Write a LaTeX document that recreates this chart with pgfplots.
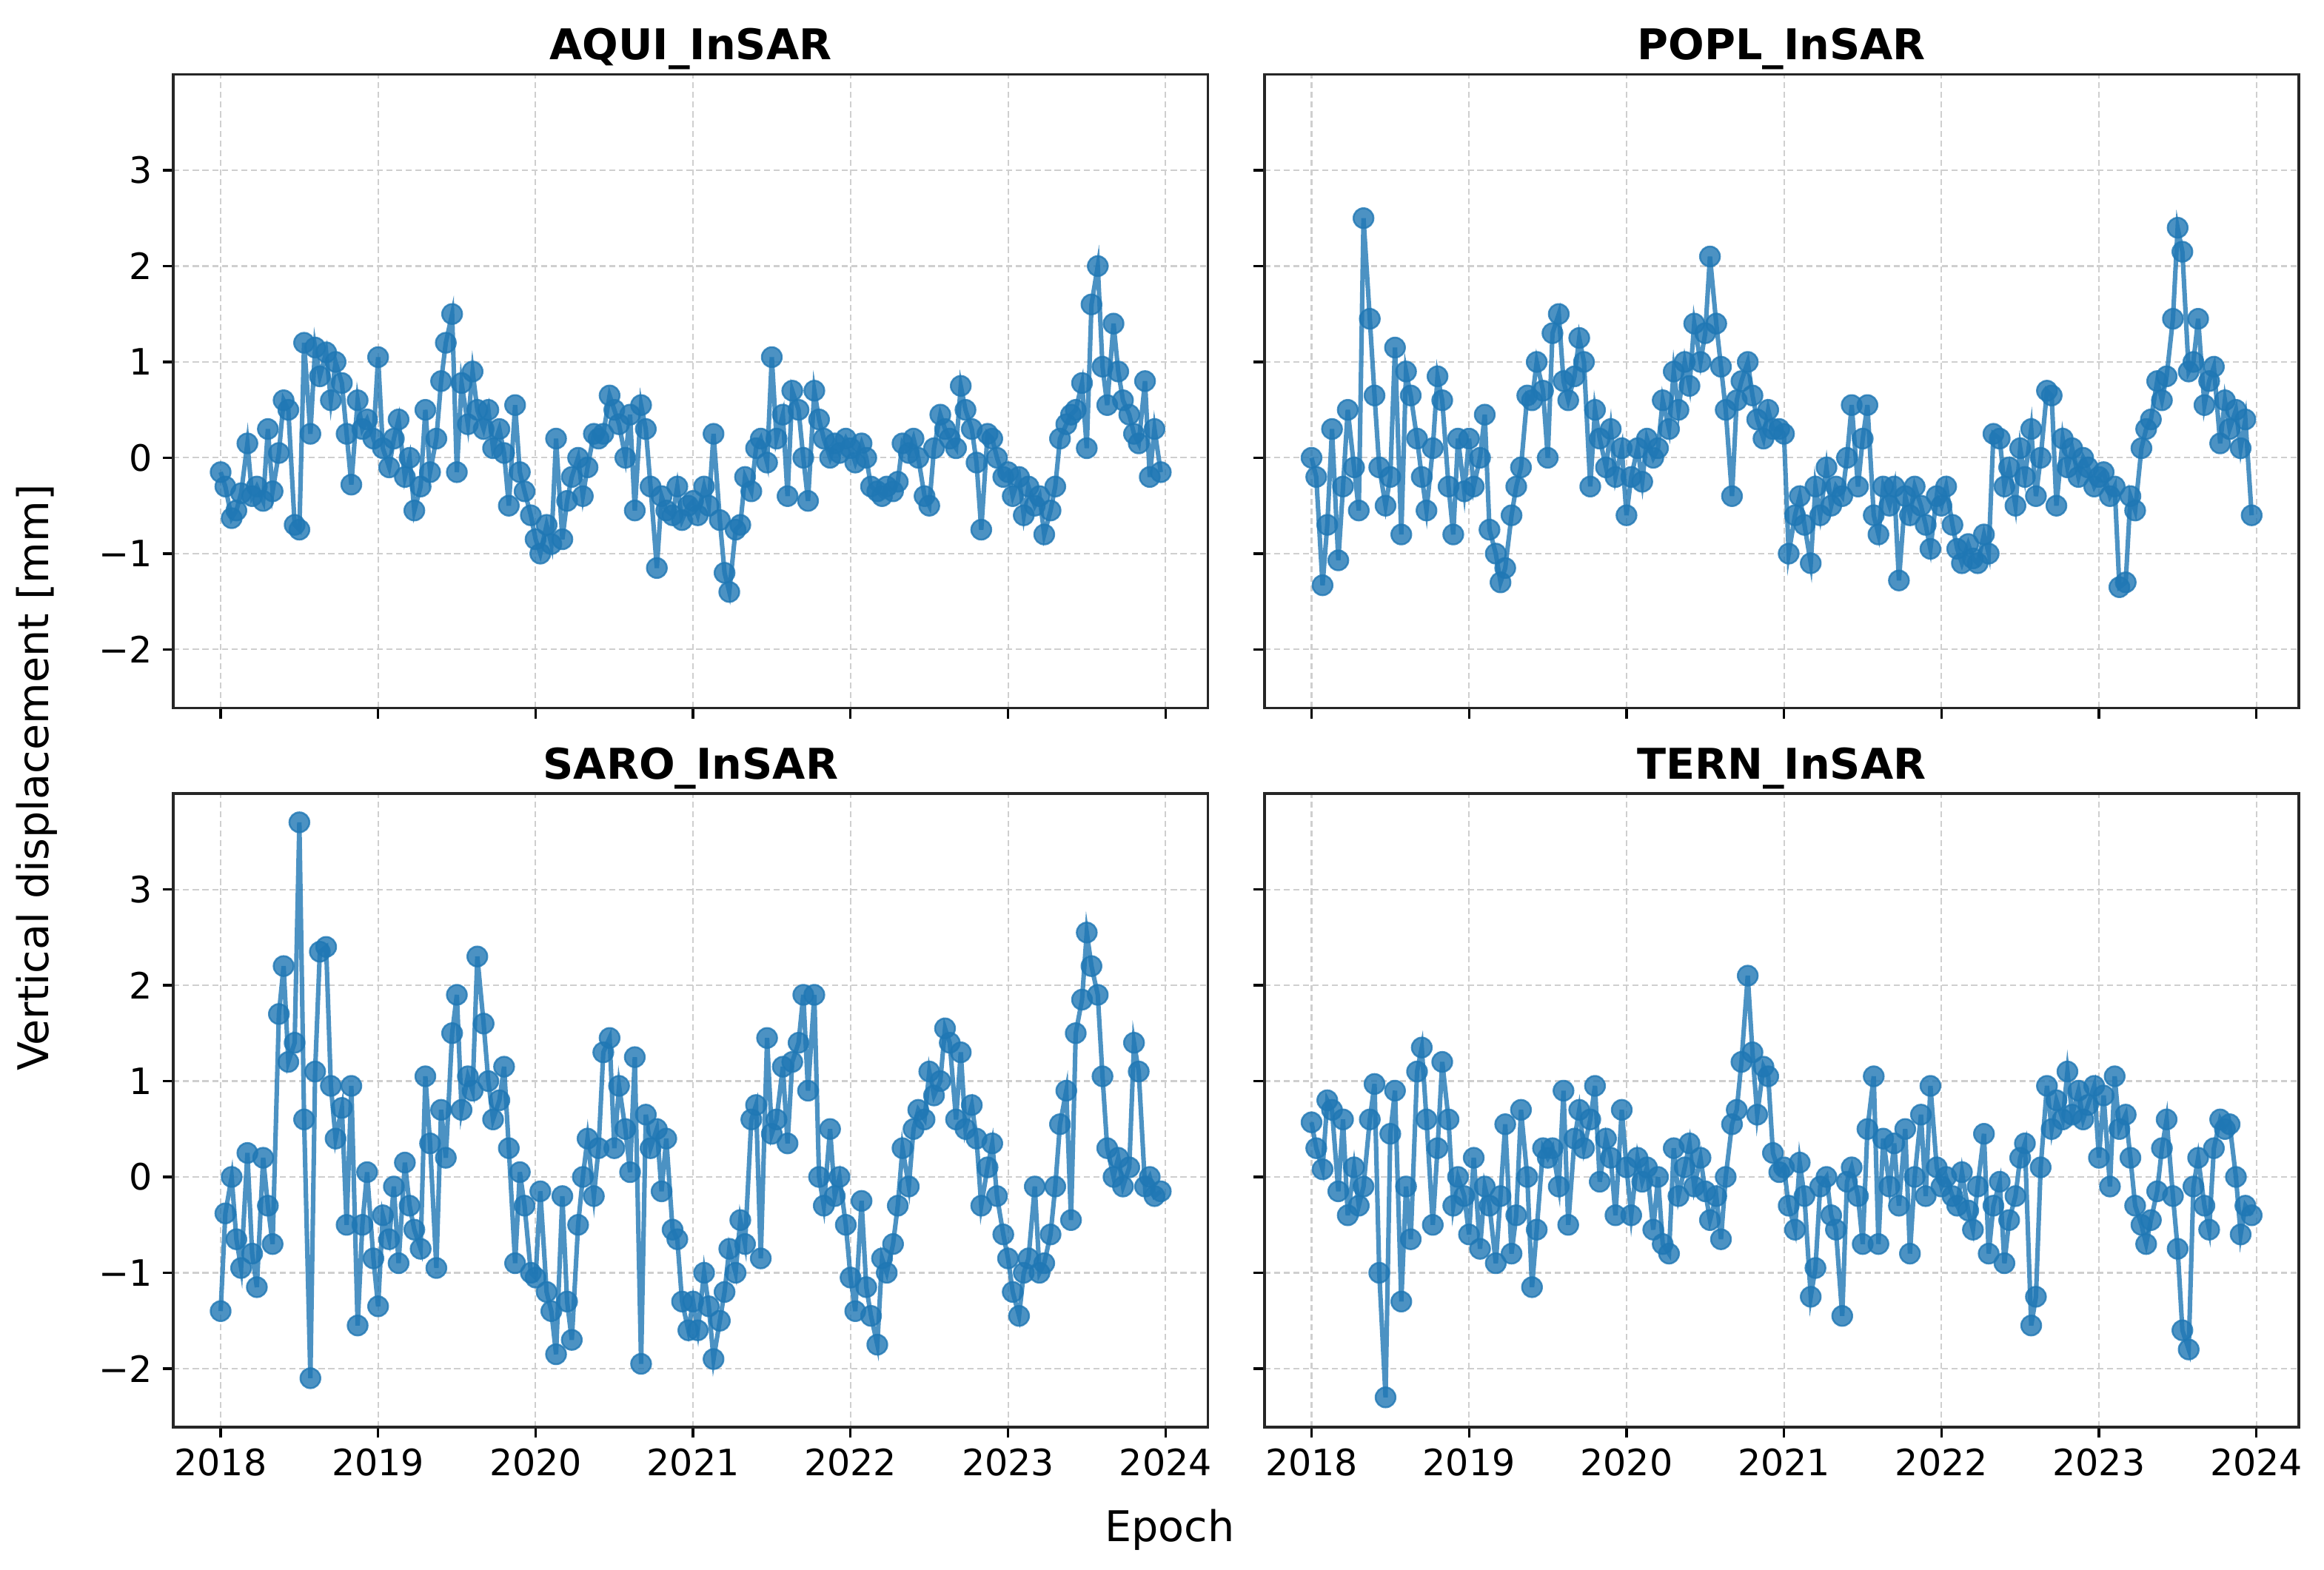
\documentclass[border=0pt]{standalone}
\usepackage{fontspec}
\setmainfont{DejaVu Sans}
\usepackage{pgfplots}
\pgfplotsset{compat=1.18}
\definecolor{tabblue}{RGB}{31,119,180}
\pgfplotsset{
  every axis title/.style={at={(0.5,1)}, anchor=base, yshift=4.9pt, font=\bfseries\fontsize{14}{16}\selectfont},
  panel/.style={
    scale only axis, width=341.9pt, height=209.4pt, anchor=south west,
    xmin=2017.70, xmax=2024.27, ymin=-2.61, ymax=4.0,
    xtick={2018,2019,2020,2021,2022,2023,2024},
    ytick={-2,-1,0,1,2,3},
    grid=major,
    major grid style={dash pattern=on 2pt off 1.2pt, gray!38, line width=0.5pt},
    tick align=outside, tick pos=left, major tick length=3.5pt,
    tick style={black, line width=0.8pt},
    axis line style={line width=0.9pt, black!85},
    tick label style={font=\fontsize{12}{14}\selectfont},
  },
  xlab/.style={xticklabels={2018,2019,2020,2021,2022,2023,2024}},
  noxlab/.style={xticklabels={}},
  ylab/.style={yticklabels={−2,−1,0,1,2,3}},
  noylab/.style={yticklabels={}},
  series/.style={color=tabblue, line width=1.5pt, opacity=0.8, mark=*, mark size=3.3pt,
    mark options={fill=tabblue, draw=tabblue, line width=0.6pt, opacity=0.8}},
}
\begin{document}
\begin{tikzpicture}
\path[use as bounding box] (0,0) rectangle (768pt,518.7pt);

% AQUI
\begin{axis}[panel, noxlab, ylab, at={(57.3pt,284.7pt)}, title={AQUI\_InSAR}]
\addplot[series] coordinates {
(2018.00,-0.15)(2018.03,-0.3)(2018.07,-0.63)(2018.10,-0.55)(2018.13,-0.37)(2018.17,0.15)(2018.20,-0.4)(2018.23,-0.3)(2018.27,-0.45)(2018.30,0.3)(2018.33,-0.35)(2018.37,0.05)(2018.40,0.6)(2018.43,0.5)(2018.47,-0.7)(2018.50,-0.75)(2018.53,1.2)(2018.57,0.25)(2018.60,1.15)(2018.63,0.85)(2018.67,1.1)(2018.70,0.6)(2018.73,1.0)(2018.77,0.78)(2018.80,0.25)(2018.83,-0.28)(2018.87,0.6)(2018.90,0.3)(2018.93,0.4)(2018.97,0.2)
(2019.00,1.05)(2019.03,0.1)(2019.07,-0.1)(2019.10,0.2)(2019.13,0.4)(2019.17,-0.2)(2019.20,0.0)(2019.23,-0.55)(2019.27,-0.3)(2019.30,0.5)(2019.33,-0.15)(2019.37,0.2)(2019.40,0.8)(2019.43,1.2)(2019.47,1.5)(2019.50,-0.15)(2019.53,0.78)(2019.57,0.35)(2019.60,0.9)(2019.63,0.5)(2019.67,0.3)(2019.70,0.5)(2019.73,0.1)(2019.77,0.3)(2019.80,0.05)(2019.83,-0.5)(2019.87,0.55)(2019.90,-0.15)(2019.93,-0.35)(2019.97,-0.6)
(2020.00,-0.85)(2020.03,-1.0)(2020.07,-0.7)(2020.10,-0.9)(2020.13,0.2)(2020.17,-0.85)(2020.20,-0.45)(2020.23,-0.2)(2020.27,0.0)(2020.30,-0.4)(2020.33,-0.1)(2020.37,0.25)(2020.40,0.2)(2020.43,0.25)(2020.47,0.65)(2020.50,0.5)(2020.53,0.35)(2020.57,0.0)(2020.60,0.45)(2020.63,-0.55)(2020.67,0.55)(2020.70,0.3)(2020.73,-0.3)(2020.77,-1.15)(2020.80,-0.4)(2020.83,-0.55)(2020.87,-0.6)(2020.90,-0.3)(2020.93,-0.65)(2020.97,-0.5)
(2021.00,-0.45)(2021.03,-0.6)(2021.07,-0.3)(2021.10,-0.5)(2021.13,0.25)(2021.17,-0.65)(2021.20,-1.2)(2021.23,-1.4)(2021.27,-0.75)(2021.30,-0.7)(2021.33,-0.2)(2021.37,-0.35)(2021.40,0.1)(2021.43,0.2)(2021.47,-0.05)(2021.50,1.05)(2021.53,0.2)(2021.57,0.45)(2021.60,-0.4)(2021.63,0.7)(2021.67,0.5)(2021.70,0.0)(2021.73,-0.45)(2021.77,0.7)(2021.80,0.4)(2021.83,0.2)(2021.87,0.0)(2021.90,0.15)(2021.93,0.05)(2021.97,0.2)
(2022.00,0.1)(2022.03,-0.05)(2022.07,0.15)(2022.10,0.0)(2022.13,-0.3)(2022.17,-0.35)(2022.20,-0.4)(2022.23,-0.3)(2022.27,-0.35)(2022.30,-0.25)(2022.33,0.15)(2022.37,0.05)(2022.40,0.2)(2022.43,0.0)(2022.47,-0.4)(2022.50,-0.5)(2022.53,0.1)(2022.57,0.45)(2022.60,0.3)(2022.63,0.2)(2022.67,0.1)(2022.70,0.75)(2022.73,0.5)(2022.77,0.3)(2022.80,-0.05)(2022.83,-0.75)(2022.87,0.25)(2022.90,0.2)(2022.93,0.0)(2022.97,-0.2)
(2023.00,-0.15)(2023.03,-0.4)(2023.07,-0.2)(2023.10,-0.6)(2023.13,-0.3)(2023.17,-0.5)(2023.20,-0.4)(2023.23,-0.8)(2023.27,-0.55)(2023.30,-0.3)(2023.33,0.2)(2023.37,0.35)(2023.40,0.45)(2023.43,0.5)(2023.47,0.78)(2023.50,0.1)(2023.53,1.6)(2023.57,2.0)(2023.60,0.95)(2023.63,0.55)(2023.67,1.4)(2023.70,0.9)(2023.73,0.6)(2023.77,0.45)(2023.80,0.25)(2023.83,0.15)(2023.87,0.8)(2023.90,-0.2)(2023.93,0.3)(2023.97,-0.15)
};
\end{axis}

% POPL
\begin{axis}[panel, noxlab, noylab, at={(417.8pt,284.7pt)}, title={POPL\_InSAR}]
\addplot[series] coordinates {
(2018.00,0.0)(2018.03,-0.2)(2018.07,-1.33)(2018.10,-0.7)(2018.13,0.3)(2018.17,-1.07)(2018.20,-0.3)(2018.23,0.5)(2018.27,-0.1)(2018.30,-0.55)(2018.33,2.5)(2018.37,1.45)(2018.40,0.65)(2018.43,-0.1)(2018.47,-0.5)(2018.50,-0.2)(2018.53,1.15)(2018.57,-0.8)(2018.60,0.9)(2018.63,0.65)(2018.67,0.2)(2018.70,-0.2)(2018.73,-0.55)(2018.77,0.1)(2018.80,0.85)(2018.83,0.6)(2018.87,-0.3)(2018.90,-0.8)(2018.93,0.2)(2018.97,-0.35)
(2019.00,0.2)(2019.03,-0.3)(2019.07,0.0)(2019.10,0.45)(2019.13,-0.75)(2019.17,-1.0)(2019.20,-1.3)(2019.23,-1.15)(2019.27,-0.6)(2019.30,-0.3)(2019.33,-0.1)(2019.37,0.65)(2019.40,0.6)(2019.43,1.0)(2019.47,0.7)(2019.50,0.0)(2019.53,1.3)(2019.57,1.5)(2019.60,0.8)(2019.63,0.6)(2019.67,0.85)(2019.70,1.25)(2019.73,1.0)(2019.77,-0.3)(2019.80,0.5)(2019.83,0.2)(2019.87,-0.1)(2019.90,0.3)(2019.93,-0.2)(2019.97,0.1)
(2020.00,-0.6)(2020.03,-0.2)(2020.07,0.1)(2020.10,-0.25)(2020.13,0.2)(2020.17,0.0)(2020.20,0.1)(2020.23,0.6)(2020.27,0.3)(2020.30,0.9)(2020.33,0.5)(2020.37,1.0)(2020.40,0.75)(2020.43,1.4)(2020.47,1.0)(2020.50,1.3)(2020.53,2.1)(2020.57,1.4)(2020.60,0.95)(2020.63,0.5)(2020.67,-0.4)(2020.70,0.6)(2020.73,0.8)(2020.77,1.0)(2020.80,0.65)(2020.83,0.4)(2020.87,0.2)(2020.90,0.5)(2020.93,0.3)(2020.97,0.3)
(2021.00,0.25)(2021.03,-1.0)(2021.07,-0.6)(2021.10,-0.4)(2021.13,-0.7)(2021.17,-1.1)(2021.20,-0.3)(2021.23,-0.6)(2021.27,-0.1)(2021.30,-0.5)(2021.33,-0.3)(2021.37,-0.4)(2021.40,0.0)(2021.43,0.55)(2021.47,-0.3)(2021.50,0.2)(2021.53,0.55)(2021.57,-0.6)(2021.60,-0.8)(2021.63,-0.3)(2021.67,-0.5)(2021.70,-0.3)(2021.73,-1.28)(2021.77,-0.4)(2021.80,-0.6)(2021.83,-0.3)(2021.87,-0.5)(2021.90,-0.7)(2021.93,-0.95)(2021.97,-0.4)
(2022.00,-0.5)(2022.03,-0.3)(2022.07,-0.7)(2022.10,-0.95)(2022.13,-1.1)(2022.17,-0.9)(2022.20,-1.05)(2022.23,-1.1)(2022.27,-0.8)(2022.30,-1.0)(2022.33,0.25)(2022.37,0.2)(2022.40,-0.3)(2022.43,-0.1)(2022.47,-0.5)(2022.50,0.1)(2022.53,-0.2)(2022.57,0.3)(2022.60,-0.4)(2022.63,0.0)(2022.67,0.7)(2022.70,0.65)(2022.73,-0.5)(2022.77,0.2)(2022.80,-0.1)(2022.83,0.1)(2022.87,-0.2)(2022.90,0.0)(2022.93,-0.1)(2022.97,-0.3)
(2023.00,-0.2)(2023.03,-0.15)(2023.07,-0.4)(2023.10,-0.3)(2023.13,-1.35)(2023.17,-1.3)(2023.20,-0.4)(2023.23,-0.55)(2023.27,0.1)(2023.30,0.3)(2023.33,0.4)(2023.37,0.8)(2023.40,0.6)(2023.43,0.85)(2023.47,1.45)(2023.50,2.4)(2023.53,2.15)(2023.57,0.9)(2023.60,1.0)(2023.63,1.45)(2023.67,0.55)(2023.70,0.8)(2023.73,0.95)(2023.77,0.15)(2023.80,0.6)(2023.83,0.3)(2023.87,0.5)(2023.90,0.1)(2023.93,0.4)(2023.97,-0.6)
};
\end{axis}

% SARO
\begin{axis}[panel, xlab, ylab, at={(57.3pt,47.0pt)}, title={SARO\_InSAR}]
\addplot[series] coordinates {
(2018.00,-1.4)(2018.03,-0.38)(2018.07,0.0)(2018.10,-0.65)(2018.13,-0.95)(2018.17,0.25)(2018.20,-0.8)(2018.23,-1.15)(2018.27,0.2)(2018.30,-0.3)(2018.33,-0.7)(2018.37,1.7)(2018.40,2.2)(2018.43,1.2)(2018.47,1.4)(2018.50,3.7)(2018.53,0.6)(2018.57,-2.1)(2018.60,1.1)(2018.63,2.35)(2018.67,2.4)(2018.70,0.95)(2018.73,0.4)(2018.77,0.72)(2018.80,-0.5)(2018.83,0.95)(2018.87,-1.55)(2018.90,-0.5)(2018.93,0.05)(2018.97,-0.85)
(2019.00,-1.35)(2019.03,-0.4)(2019.07,-0.65)(2019.10,-0.1)(2019.13,-0.9)(2019.17,0.15)(2019.20,-0.3)(2019.23,-0.55)(2019.27,-0.75)(2019.30,1.05)(2019.33,0.35)(2019.37,-0.95)(2019.40,0.7)(2019.43,0.2)(2019.47,1.5)(2019.50,1.9)(2019.53,0.7)(2019.57,1.05)(2019.60,0.9)(2019.63,2.3)(2019.67,1.6)(2019.70,1.0)(2019.73,0.6)(2019.77,0.8)(2019.80,1.15)(2019.83,0.3)(2019.87,-0.9)(2019.90,0.05)(2019.93,-0.3)(2019.97,-1.0)
(2020.00,-1.05)(2020.03,-0.15)(2020.07,-1.2)(2020.10,-1.4)(2020.13,-1.85)(2020.17,-0.2)(2020.20,-1.3)(2020.23,-1.7)(2020.27,-0.5)(2020.30,0.0)(2020.33,0.4)(2020.37,-0.2)(2020.40,0.3)(2020.43,1.3)(2020.47,1.45)(2020.50,0.3)(2020.53,0.95)(2020.57,0.5)(2020.60,0.05)(2020.63,1.25)(2020.67,-1.95)(2020.70,0.65)(2020.73,0.3)(2020.77,0.5)(2020.80,-0.15)(2020.83,0.4)(2020.87,-0.55)(2020.90,-0.65)(2020.93,-1.3)(2020.97,-1.6)
(2021.00,-1.3)(2021.03,-1.6)(2021.07,-1.0)(2021.10,-1.35)(2021.13,-1.9)(2021.17,-1.5)(2021.20,-1.2)(2021.23,-0.75)(2021.27,-1.0)(2021.30,-0.45)(2021.33,-0.7)(2021.37,0.6)(2021.40,0.75)(2021.43,-0.85)(2021.47,1.45)(2021.50,0.45)(2021.53,0.6)(2021.57,1.15)(2021.60,0.35)(2021.63,1.2)(2021.67,1.4)(2021.70,1.9)(2021.73,0.9)(2021.77,1.9)(2021.80,0.0)(2021.83,-0.3)(2021.87,0.5)(2021.90,-0.2)(2021.93,0.0)(2021.97,-0.5)
(2022.00,-1.05)(2022.03,-1.4)(2022.07,-0.25)(2022.10,-1.15)(2022.13,-1.45)(2022.17,-1.75)(2022.20,-0.85)(2022.23,-1.0)(2022.27,-0.7)(2022.30,-0.3)(2022.33,0.3)(2022.37,-0.1)(2022.40,0.5)(2022.43,0.7)(2022.47,0.6)(2022.50,1.1)(2022.53,0.85)(2022.57,1.0)(2022.60,1.55)(2022.63,1.4)(2022.67,0.6)(2022.70,1.3)(2022.73,0.5)(2022.77,0.75)(2022.80,0.4)(2022.83,-0.3)(2022.87,0.1)(2022.90,0.35)(2022.93,-0.2)(2022.97,-0.6)
(2023.00,-0.85)(2023.03,-1.2)(2023.07,-1.45)(2023.10,-1.0)(2023.13,-0.85)(2023.17,-0.1)(2023.20,-1.0)(2023.23,-0.9)(2023.27,-0.6)(2023.30,-0.1)(2023.33,0.55)(2023.37,0.9)(2023.40,-0.45)(2023.43,1.5)(2023.47,1.85)(2023.50,2.55)(2023.53,2.2)(2023.57,1.9)(2023.60,1.05)(2023.63,0.3)(2023.67,0.0)(2023.70,0.2)(2023.73,-0.1)(2023.77,0.1)(2023.80,1.4)(2023.83,1.1)(2023.87,-0.1)(2023.90,0.0)(2023.93,-0.2)(2023.97,-0.15)
};
\end{axis}

% TERN
\begin{axis}[panel, xlab, noylab, at={(417.8pt,47.0pt)}, title={TERN\_InSAR}]
\addplot[series] coordinates {
(2018.00,0.57)(2018.03,0.3)(2018.07,0.08)(2018.10,0.8)(2018.13,0.7)(2018.17,-0.15)(2018.20,0.6)(2018.23,-0.4)(2018.27,0.1)(2018.30,-0.3)(2018.33,-0.1)(2018.37,0.6)(2018.40,0.97)(2018.43,-1.0)(2018.47,-2.3)(2018.50,0.45)(2018.53,0.9)(2018.57,-1.3)(2018.60,-0.1)(2018.63,-0.65)(2018.67,1.1)(2018.70,1.35)(2018.73,0.6)(2018.77,-0.5)(2018.80,0.3)(2018.83,1.2)(2018.87,0.6)(2018.90,-0.3)(2018.93,0.0)(2018.97,-0.2)
(2019.00,-0.6)(2019.03,0.2)(2019.07,-0.75)(2019.10,-0.1)(2019.13,-0.3)(2019.17,-0.9)(2019.20,-0.2)(2019.23,0.55)(2019.27,-0.8)(2019.30,-0.4)(2019.33,0.7)(2019.37,0.0)(2019.40,-1.15)(2019.43,-0.55)(2019.47,0.3)(2019.50,0.2)(2019.53,0.3)(2019.57,-0.1)(2019.60,0.9)(2019.63,-0.5)(2019.67,0.4)(2019.70,0.7)(2019.73,0.3)(2019.77,0.6)(2019.80,0.95)(2019.83,-0.05)(2019.87,0.4)(2019.90,0.2)(2019.93,-0.4)(2019.97,0.7)
(2020.00,0.1)(2020.03,-0.4)(2020.07,0.2)(2020.10,-0.05)(2020.13,0.1)(2020.17,-0.55)(2020.20,0.0)(2020.23,-0.7)(2020.27,-0.8)(2020.30,0.3)(2020.33,-0.2)(2020.37,0.1)(2020.40,0.35)(2020.43,-0.1)(2020.47,0.2)(2020.50,-0.15)(2020.53,-0.45)(2020.57,-0.2)(2020.60,-0.65)(2020.63,0.0)(2020.67,0.55)(2020.70,0.7)(2020.73,1.2)(2020.77,2.1)(2020.80,1.3)(2020.83,0.65)(2020.87,1.15)(2020.90,1.05)(2020.93,0.25)(2020.97,0.05)
(2021.00,0.1)(2021.03,-0.3)(2021.07,-0.55)(2021.10,0.15)(2021.13,-0.2)(2021.17,-1.25)(2021.20,-0.95)(2021.23,-0.1)(2021.27,0.0)(2021.30,-0.4)(2021.33,-0.55)(2021.37,-1.45)(2021.40,-0.05)(2021.43,0.1)(2021.47,-0.2)(2021.50,-0.7)(2021.53,0.5)(2021.57,1.05)(2021.60,-0.7)(2021.63,0.4)(2021.67,-0.1)(2021.70,0.35)(2021.73,-0.3)(2021.77,0.5)(2021.80,-0.8)(2021.83,0.0)(2021.87,0.65)(2021.90,-0.2)(2021.93,0.95)(2021.97,0.1)
(2022.00,-0.1)(2022.03,0.0)(2022.07,-0.2)(2022.10,-0.3)(2022.13,0.05)(2022.17,-0.35)(2022.20,-0.55)(2022.23,-0.1)(2022.27,0.45)(2022.30,-0.8)(2022.33,-0.3)(2022.37,-0.05)(2022.40,-0.9)(2022.43,-0.45)(2022.47,-0.2)(2022.50,0.2)(2022.53,0.35)(2022.57,-1.55)(2022.60,-1.25)(2022.63,0.1)(2022.67,0.95)(2022.70,0.5)(2022.73,0.8)(2022.77,0.6)(2022.80,1.1)(2022.83,0.65)(2022.87,0.9)(2022.90,0.6)(2022.93,0.75)(2022.97,0.95)
(2023.00,0.2)(2023.03,0.85)(2023.07,-0.1)(2023.10,1.05)(2023.13,0.5)(2023.17,0.65)(2023.20,0.2)(2023.23,-0.3)(2023.27,-0.5)(2023.30,-0.7)(2023.33,-0.45)(2023.37,-0.15)(2023.40,0.3)(2023.43,0.6)(2023.47,-0.2)(2023.50,-0.75)(2023.53,-1.6)(2023.57,-1.8)(2023.60,-0.1)(2023.63,0.2)(2023.67,-0.3)(2023.70,-0.55)(2023.73,0.3)(2023.77,0.6)(2023.80,0.5)(2023.83,0.55)(2023.87,0.0)(2023.90,-0.6)(2023.93,-0.3)(2023.97,-0.4)
};
\end{axis}

\node[font=\fontsize{14}{17}\selectfont, anchor=base] at (386.5pt,9.3pt) {Epoch};
\node[font=\fontsize{14}{17}\selectfont, rotate=90, anchor=center] at (12.2pt,261.6pt) {Vertical displacement [mm]};
\end{tikzpicture}
\end{document}
